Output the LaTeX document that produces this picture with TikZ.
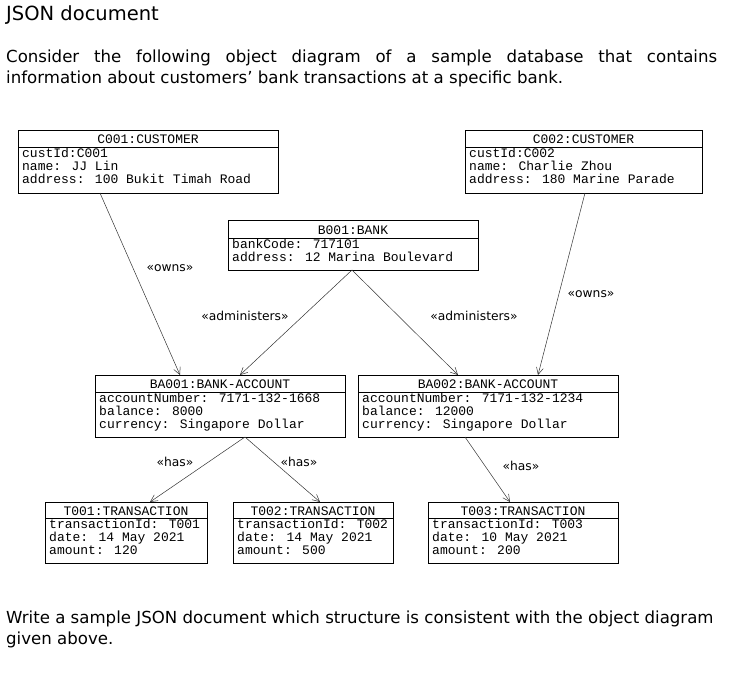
\documentclass[tikz,border=0pt]{standalone}
\usepackage{fontspec}
\setmainfont{DejaVu Sans}
\newfontfamily\mono{Liberation Mono}
\usetikzlibrary{arrows.meta}
\begin{document}
\begin{tikzpicture}[x=1pt,y=-1pt,
 hd/.style={font=\mono\fontsize{13}{14}\selectfont, anchor=center, inner sep=0pt},
 bd/.style={font=\mono\fontsize{13}{12.8}\selectfont, anchor=north west, align=left, inner sep=0pt},
 lbl/.style={font=\fontsize{12.3}{13}\selectfont},
 con/.style={draw=black!80, line width=0.5pt, -{Straight Barb[length=7pt,width=7pt]}},
 bx/.style={draw, line width=0.6pt}]
\useasboundingbox (0,0) rectangle (744,688);
\node[anchor=west, inner sep=0pt, font=\fontsize{19.5}{22}\selectfont] (title) at (6,15) {JSON document};
\node[anchor=north west, align=left, inner sep=0pt, font=\fontsize{16.6}{21}\selectfont] (intro) at (6,50) {\makebox[711pt][s]{Consider the following object diagram of a sample database that contains}\\information about customers’ bank transactions at a specific bank.};
\node[anchor=north west, align=left, inner sep=0pt, font=\fontsize{16.6}{21}\selectfont] (outro) at (6,611) {Write a sample JSON document which structure is consistent with the object diagram\\given above.};
\newcommand{\objbox}[8]{% name x1 y1 x2 y2 yh title body
 \draw[bx] (#2,#3) rectangle (#4,#5); \draw[bx] (#2,#6) -- (#4,#6);
 \node[hd] (#1h) at ({(#2+#4)/2},{(#3+#6)/2+1}) {#7};
 \node[bd] (#1b) at (#2+4,#6+1) {#8};
 \coordinate (#1) at ({(#2+#4)/2},{(#3+#5)/2});}
\objbox{c1}{18}{130}{278}{193}{147}{C001:CUSTOMER}{custId:C001\\name: JJ Lin\\address: 100 Bukit Timah Road}
\objbox{c2}{465}{130}{702}{193}{147}{C002:CUSTOMER}{custId:C002\\name: Charlie Zhou\\address: 180 Marine Parade}
\objbox{b1}{228}{220}{478}{270}{238}{B001:BANK}{bankCode: 717101\\address: 12 Marina Boulevard}
\objbox{a1}{95}{375}{345}{437}{392}{BA001:BANK-ACCOUNT}{accountNumber: 7171-132-1668\\balance: 8000\\currency: Singapore Dollar}
\objbox{a2}{358}{375}{618}{437}{392}{BA002:BANK-ACCOUNT}{accountNumber: 7171-132-1234\\balance: 12000\\currency: Singapore Dollar}
\objbox{t1}{45}{502}{207}{563}{518}{T001:TRANSACTION}{transactionId: T001\\date: 14 May 2021\\amount: 120}
\objbox{t2}{233}{502}{393}{563}{518}{T002:TRANSACTION}{transactionId: T002\\date: 14 May 2021\\amount: 500}
\objbox{t3}{428}{502}{618}{563}{518}{T003:TRANSACTION}{transactionId: T003\\date: 10 May 2021\\amount: 200}
\coordinate (c1s) at (100,193); \coordinate (c1e) at (180,375);
\coordinate (c2s) at (585,193); \coordinate (c2e) at (538,375);
\coordinate (b1s) at (352,270); \coordinate (a1t) at (240,375); \coordinate (a2t) at (458,375);
\coordinate (a1s) at (245,437); \coordinate (t1t) at (150,502); \coordinate (t2t) at (320,502);
\coordinate (a2s) at (465,437); \coordinate (t3t) at (510,502);
\draw[con] (c1s) -- (c1e);
\draw[con] (c2s) -- (c2e);
\draw[con] (b1s) -- (a1t);
\draw[con] (b1s) -- (a2t);
\draw[con] (a1s) -- (t1t);
\draw[con] (a1s) -- (t2t);
\draw[con] (a2s) -- (t3t);
\node[lbl] (l1) at (170,268) {«owns»};
\node[lbl] (l2) at (591,294) {«owns»};
\node[lbl] (l3) at (245,316) {«administers»};
\node[lbl] (l4) at (474,316) {«administers»};
\node[lbl] (l5) at (175,462) {«has»};
\node[lbl] (l6) at (299,462) {«has»};
\node[lbl] (l7) at (521,466) {«has»};
\end{tikzpicture}
\end{document}
